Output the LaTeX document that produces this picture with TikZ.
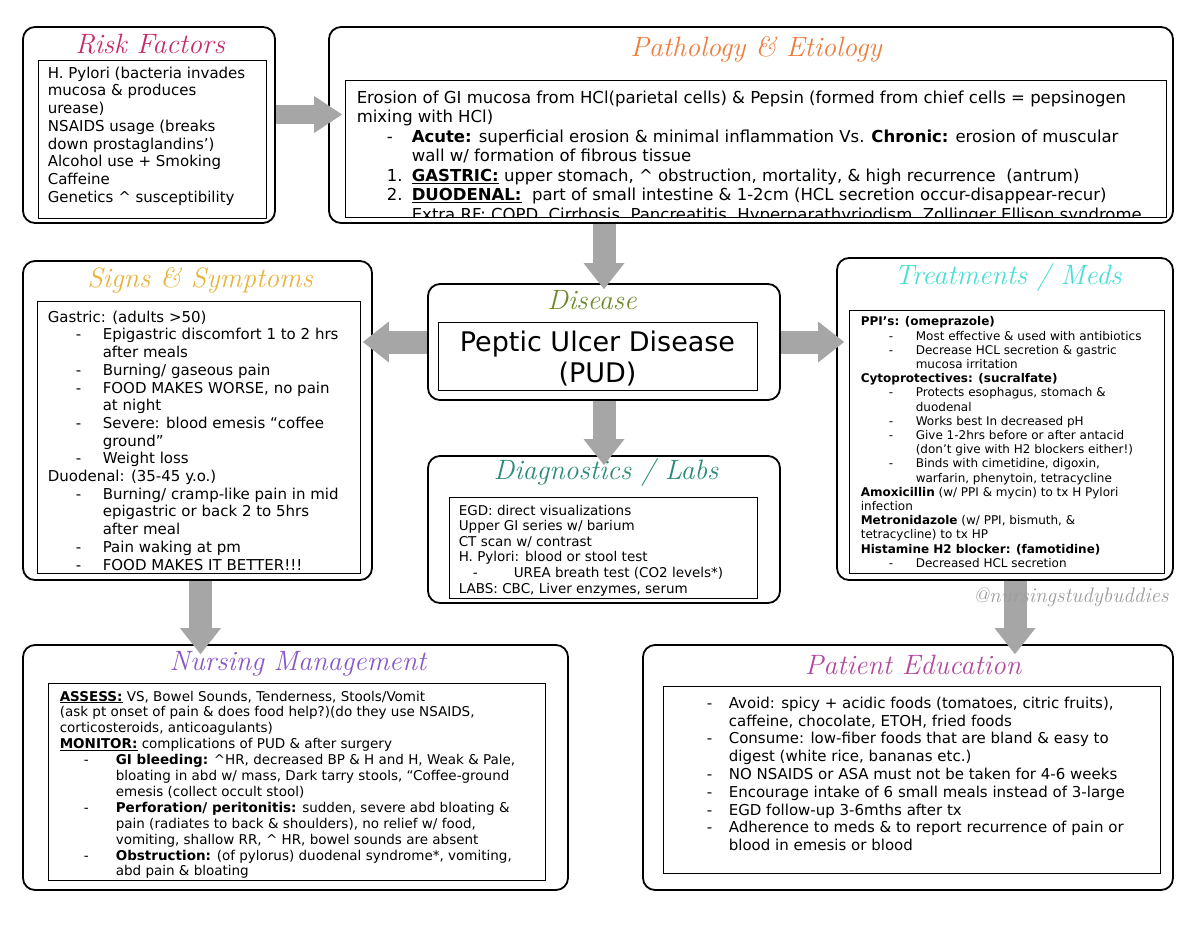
\documentclass[tikz,border=0pt]{standalone}
\usepackage{fontspec}
\setmainfont{DejaVu Sans}
\usepackage{tikz}
\usetikzlibrary{arrows.meta,positioning,calc,fit}
\definecolor{riskc}{HTML}{C62A6A}
\definecolor{pathc}{HTML}{EE7D3C}
\definecolor{signc}{HTML}{E8B43C}
\definecolor{disc}{HTML}{6E8B2A}
\definecolor{treatc}{HTML}{48E0D6}
\definecolor{diagc}{HTML}{2A8C78}
\definecolor{nursc}{HTML}{8A58C6}
\definecolor{patc}{HTML}{B4489E}
\definecolor{arrowgray}{HTML}{A6A6A6}
\definecolor{wmgray}{HTML}{9C9C9C}
\newcommand{\dashln}[2]{\hspace*{#1}\makebox[#2][l]{-}}
\newcommand{\ttlfont}{\fontfamily{lmr}\fontshape{it}\selectfont}
\tikzset{outerbox/.style={draw=black, line width=1.8pt, rounded corners=12pt, inner sep=0pt}}
\tikzset{innerbox/.style={draw=black, line width=0.8pt, inner sep=0pt}}
\tikzset{boxtitle/.style={font=\ttlfont\fontsize{28}{30}\selectfont, inner sep=0pt}}
\tikzset{boxtext/.style={anchor=north west, align=left, inner sep=0pt}}
\tikzset{bigarrow/.style={draw=arrowgray, line width=23pt, -{Triangle[length=26pt,width=41pt,line width=0pt]}}}
\begin{document}
\begin{tikzpicture}[x=1pt,y=-1pt]
\path[use as bounding box, fill=white] (0,0) rectangle (1200,927);
% outer boxes
\node[outerbox, fit={(23,27) (275,223)}] (risk) {};
\node[outerbox, fit={(329,27) (1173,223)}] (patho) {};
\node[outerbox, fit={(23,261) (372,580)}] (signs) {};
\node[outerbox, fit={(428,284) (780,400)}] (disease) {};
\node[outerbox, fit={(428,456) (780,603)}] (diag) {};
\node[outerbox, fit={(837,258) (1173,580)}] (treat) {};
\node[outerbox, fit={(23,645) (568,890)}] (nursing) {};
\node[outerbox, fit={(643,645) (1173,890)}] (patient) {};
% inner boxes
\node[innerbox, fit={(38,60) (266,218)}] (rinner) {};
\node[innerbox, fit={(345,80) (1166,217)}] (pinner) {};
\node[innerbox, fit={(37,301) (360,573)}] (sinner) {};
\node[innerbox, fit={(438,322) (757,390)}] (dinner) {};
\node[innerbox, fit={(449,497) (757,598)}] (ginner) {};
\node[innerbox, fit={(849,310) (1164,573)}] (tinner) {};
\node[innerbox, fit={(48,683) (545,880)}] (ninner) {};
\node[innerbox, fit={(663,686) (1160,873)}] (einner) {};
% titles
\node[boxtitle, text=riskc] (risktitle) at (150,44) {Risk Factors};
\node[boxtitle, text=pathc] (pathotitle) at (756,49) {Pathology \& Etiology};
\node[boxtitle, text=signc] (signstitle) at (200,280) {Signs \& Symptoms};
\node[boxtitle, text=disc] (distitle) at (592,300) {Disease};
\node[boxtitle, text=treatc] (treattitle) at (1008,277) {Treatments / Meds};
\node[boxtitle, text=diagc] (diagtitle) at (606,472) {Diagnostics / Labs};
\node[boxtitle, text=nursc] (nurstitle) at (298,664) {Nursing Management};
\node[boxtitle, text=patc] (pattitle) at (913,665) {Patient Education};
% texts
\node[boxtext, font=\fontsize{15}{17.7}\selectfont] (risktext) at ([xshift=10pt,yshift=-7pt]rinner.north west)
  {H. Pylori (bacteria invades\\
   mucosa \& produces\\
   urease)\\
   NSAIDS usage (breaks\\
   down prostaglandins’)\\
   Alcohol use + Smoking\\
   Caffeine\\
   Genetics \textasciicircum{} susceptibility};
\begin{scope}
\clip (pinner.south west) rectangle (pinner.north east);
\node[boxtext, font=\fontsize{16.5}{19.5}\selectfont] (pathotext) at ([xshift=12pt,yshift=-11pt]pinner.north west)
  {Erosion of GI mucosa from HCl(parietal cells) \& Pepsin (formed from chief cells = pepsinogen\\
   mixing with HCl)\\
   \dashln{30pt}{25pt}\textbf{Acute:} superficial erosion \& minimal inflammation Vs. \textbf{Chronic:} erosion of muscular\\
   \hspace*{55pt}wall w/ formation of fibrous tissue\\
   \hspace*{30pt}\makebox[25pt][l]{1.}\underline{\textbf{GASTRIC:}} upper stomach, \textasciicircum{} obstruction, mortality, \& high recurrence~~(antrum)\\
   \hspace*{30pt}\makebox[25pt][l]{2.}\underline{\textbf{DUODENAL:}}~ part of small intestine \& 1-2cm (HCL secretion occur-disappear-recur)\\
   \hspace*{55pt}Extra RF: COPD, Cirrhosis, Pancreatitis, Hyperparathyriodism, Zollinger Ellison syndrome};
\end{scope}
\begin{scope}
\clip (sinner.south west) rectangle (sinner.north east);
\node[boxtext, font=\fontsize{15}{17.7}\selectfont] (signstext) at ([xshift=11pt,yshift=-10pt]sinner.north west)
  {Gastric: (adults >50)\\
   \dashln{28pt}{27pt}Epigastric discomfort 1 to 2 hrs\\
   \hspace*{55pt}after meals\\
   \dashln{28pt}{27pt}Burning/ gaseous pain\\
   \dashln{28pt}{27pt}FOOD MAKES WORSE, no pain\\
   \hspace*{55pt}at night\\
   \dashln{28pt}{27pt}Severe: blood emesis “coffee\\
   \hspace*{55pt}ground”\\
   \dashln{28pt}{27pt}Weight loss\\
   Duodenal: (35-45 y.o.)\\
   \dashln{28pt}{27pt}Burning/ cramp-like pain in mid\\
   \hspace*{55pt}epigastric or back 2 to 5hrs\\
   \hspace*{55pt}after meal\\
   \dashln{28pt}{27pt}Pain waking at pm\\
   \dashln{28pt}{27pt}FOOD MAKES IT BETTER!!!};
\end{scope}
\node[align=center, inner sep=0pt, font=\fontsize{27}{31}\selectfont] (pud) at ([yshift=-3pt]dinner.center) {Peptic Ulcer Disease\\(PUD)};
\begin{scope}
\clip (ginner.south west) rectangle (ginner.north east);
\node[boxtext, font=\fontsize{13.5}{15.6}\selectfont] (diagtext) at ([xshift=10pt,yshift=-8pt]ginner.north west)
  {EGD: direct visualizations\\
   Upper GI series w/ barium\\
   CT scan w/ contrast\\
   H. Pylori: blood or stool test\\
   \dashln{14pt}{41pt}UREA breath test (CO2 levels*)\\
   LABS: CBC, Liver enzymes, serum};
\end{scope}
\node[boxtext, font=\fontsize{12}{14.2}\selectfont] (treattext) at ([xshift=12pt,yshift=-7pt]tinner.north west)
  {\textbf{PPI’s: (omeprazole)}\\
   \dashln{28pt}{27pt}Most effective \& used with antibiotics\\
   \dashln{28pt}{27pt}Decrease HCL secretion \& gastric\\
   \hspace*{55pt}mucosa irritation\\
   \textbf{Cytoprotectives: (sucralfate)}\\
   \dashln{28pt}{27pt}Protects esophagus, stomach \&\\
   \hspace*{55pt}duodenal\\
   \dashln{28pt}{27pt}Works best In decreased pH\\
   \dashln{28pt}{27pt}Give 1-2hrs before or after antacid\\
   \hspace*{55pt}(don’t give with H2 blockers either!)\\
   \dashln{28pt}{27pt}Binds with cimetidine, digoxin,\\
   \hspace*{55pt}warfarin, phenytoin, tetracycline\\
   \textbf{Amoxicillin} (w/ PPI \& mycin) to tx H Pylori\\
   infection\\
   \textbf{Metronidazole} (w/ PPI, bismuth, \&\\
   tetracycline) to tx HP\\
   \textbf{Histamine H2 blocker: (famotidine)}\\
   \dashln{28pt}{27pt}Decreased HCL secretion};
\node[boxtext, font=\fontsize{13.5}{15.9}\selectfont] (nurstext) at ([xshift=12pt,yshift=-8pt]ninner.north west)
  {\underline{\textbf{ASSESS:}} VS, Bowel Sounds, Tenderness, Stools/Vomit\\
   (ask pt onset of pain \& does food help?)(do they use NSAIDS,\\
   corticosteroids, anticoagulants)\\
   \underline{\textbf{MONITOR:}} complications of PUD \& after surgery\\
   \dashln{24pt}{32pt}\textbf{GI bleeding:} \textasciicircum HR, decreased BP \& H and H, Weak \& Pale,\\
   \hspace*{56pt}bloating in abd w/ mass, Dark tarry stools, “Coffee-ground\\
   \hspace*{56pt}emesis (collect occult stool)\\
   \dashln{24pt}{32pt}\textbf{Perforation/ peritonitis:} sudden, severe abd bloating \&\\
   \hspace*{56pt}pain (radiates to back \& shoulders), no relief w/ food,\\
   \hspace*{56pt}vomiting, shallow RR, \textasciicircum{} HR, bowel sounds are absent\\
   \dashln{24pt}{32pt}\textbf{Obstruction:} (of pylorus) duodenal syndrome*, vomiting,\\
   \hspace*{56pt}abd pain \& bloating};
\node[boxtext, font=\fontsize{15}{17.8}\selectfont] (pattext) at ([xshift=44pt,yshift=-11pt]einner.north west)
  {\dashln{0pt}{22pt}Avoid: spicy + acidic foods (tomatoes, citric fruits),\\
   \hspace*{22pt}caffeine, chocolate, ETOH, fried foods\\
   \dashln{0pt}{22pt}Consume: low-fiber foods that are bland \& easy to\\
   \hspace*{22pt}digest (white rice, bananas etc.)\\
   \dashln{0pt}{22pt}NO NSAIDS or ASA must not be taken for 4-6 weeks\\
   \dashln{0pt}{22pt}Encourage intake of 6 small meals instead of 3-large\\
   \dashln{0pt}{22pt}EGD follow-up 3-6mths after tx\\
   \dashln{0pt}{22pt}Adherence to meds \& to report recurrence of pain or\\
   \hspace*{22pt}blood in emesis or blood};
% arrows
\draw[bigarrow, line width=19pt, -{Triangle[length=28pt,width=37pt,line width=0pt]}] ([yshift=10.5pt]risk.east) -- ([xshift=14pt,yshift=10.5pt]patho.west);
\draw[bigarrow] (disease.north |- patho.south) -- ($(disease.north)+(0,6)$);
\draw[bigarrow] (disease.west) -- ($(signs.east |- disease.west)+(-10,0)$);
\draw[bigarrow] (disease.east) -- ($(treat.west |- disease.east)+(8,0)$);
\draw[bigarrow] (disease.south) -- ($(diag.north)+(0,10)$);
\draw[bigarrow] ($(signs.south)+(3,0)$) -- ($(signs.south |- nursing.north)+(3,10)$);
\draw[bigarrow] ($(treat.south)+(10,0)$) -- ($(treat.south |- patient.north)+(10,10)$);
\node[text=wmgray, inner sep=0pt, font=\ttlfont\fontsize{21}{23}\selectfont] (credit) at (1071,597) {@nursingstudybuddies};
\end{tikzpicture}
\end{document}
